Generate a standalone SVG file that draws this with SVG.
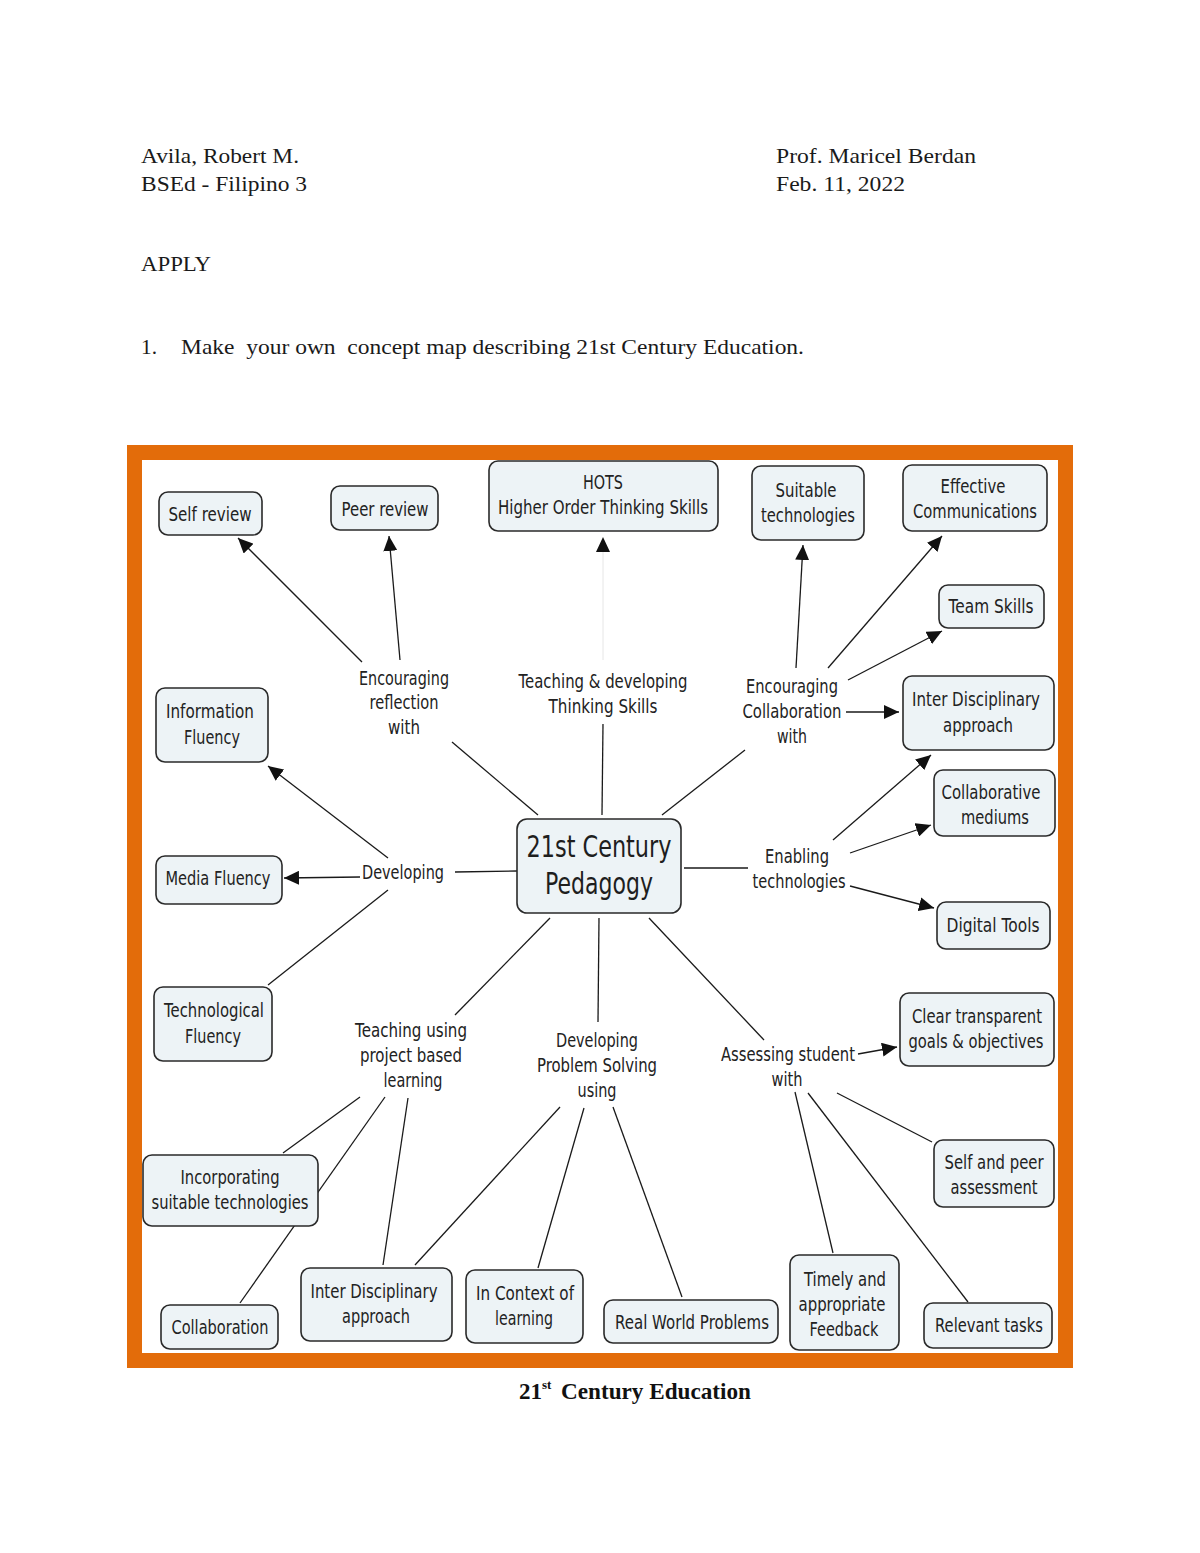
<svg xmlns="http://www.w3.org/2000/svg" width="1200" height="1553" viewBox="0 0 1200 1553">
<defs>
<marker id="arr" markerUnits="userSpaceOnUse" markerWidth="16" markerHeight="14" refX="15" refY="7" orient="auto">
<path d="M0,0 L15,7 L0,14 Z" fill="#111"/>
</marker>
<style>
.hdr{font-family:"Liberation Serif","Times New Roman",serif;font-size:22px;fill:#1a1a1a}
.box{fill:#edf3f6;stroke:#2a2a2a;stroke-width:1.6}
.nt{font-family:"DejaVu Sans",Verdana,sans-serif;font-size:19px;fill:#222;text-anchor:middle}
.ct{font-family:"DejaVu Sans",Verdana,sans-serif;font-size:30px;fill:#1e1e1e;text-anchor:middle}
.lk{font-family:"DejaVu Sans",Verdana,sans-serif;font-size:19px;fill:#222;text-anchor:middle}
.c{stroke:#1a1a1a;stroke-width:1.3;fill:none}
.ca{stroke:#1a1a1a;stroke-width:1.3;fill:none;marker-end:url(#arr)}
.cap{font-family:"Liberation Serif","Times New Roman",serif;font-weight:bold;font-size:23px;fill:#111}
.sup{font-family:"Liberation Serif","Times New Roman",serif;font-weight:bold;font-size:13px;fill:#111}
</style>
</defs>
<rect width="1200" height="1553" fill="#fff"/>

<g id="header">
<text class="hdr" x="141" y="163" textLength="158" lengthAdjust="spacingAndGlyphs">Avila, Robert M.</text>
<text class="hdr" x="141" y="191" textLength="166" lengthAdjust="spacingAndGlyphs">BSEd - Filipino 3</text>
<text class="hdr" x="776" y="163" textLength="200" lengthAdjust="spacingAndGlyphs">Prof. Maricel Berdan</text>
<text class="hdr" x="776" y="191" textLength="129" lengthAdjust="spacingAndGlyphs">Feb. 11, 2022</text>
<text class="hdr" x="141" y="271" textLength="70" lengthAdjust="spacingAndGlyphs">APPLY</text>
<text class="hdr" x="141" y="354" textLength="16" lengthAdjust="spacingAndGlyphs">1.</text>
<text class="hdr" x="181" y="354" textLength="623" lengthAdjust="spacingAndGlyphs" xml:space="preserve">Make  your own  concept map describing 21st Century Education.</text>
</g>

<rect x="134.5" y="452.5" width="931" height="908" fill="#fff" stroke="#e36c0a" stroke-width="15"/>

<g id="connectors">
<line class="c" x1="538" y1="815" x2="452" y2="742"/>
<line class="ca" x1="362" y1="662" x2="238" y2="538"/>
<line class="ca" x1="400" y1="660" x2="389" y2="536"/>
<line class="c" x1="602" y1="815" x2="603" y2="724"/>
<line x1="603" y1="660" x2="603" y2="552" stroke="#e6e6e6" stroke-width="1"/>
<line class="ca" x1="603" y1="664" x2="603" y2="537" stroke-opacity="0"/>
<line class="c" x1="662" y1="815" x2="745" y2="750"/>
<line class="ca" x1="796" y1="668" x2="803" y2="545"/>
<line class="ca" x1="828" y1="668" x2="942" y2="536"/>
<line class="ca" x1="848" y1="680" x2="942" y2="631"/>
<line class="ca" x1="846" y1="712" x2="899" y2="712"/>
<line class="c" x1="684" y1="868" x2="748" y2="868"/>
<line class="ca" x1="833" y1="840" x2="931" y2="755"/>
<line class="ca" x1="850" y1="853" x2="931" y2="825"/>
<line class="ca" x1="850" y1="886" x2="934" y2="908"/>
<line class="c" x1="517" y1="871" x2="455" y2="872"/>
<line class="ca" x1="388" y1="858" x2="268" y2="766"/>
<line class="ca" x1="360" y1="877" x2="284" y2="878"/>
<line class="c" x1="388" y1="890" x2="268" y2="985"/>
<line class="c" x1="550" y1="918" x2="455" y2="1015"/>
<line class="c" x1="360" y1="1097" x2="283" y2="1153"/>
<line class="c" x1="385" y1="1097" x2="240" y2="1303"/>
<line class="c" x1="408" y1="1098" x2="383" y2="1265"/>
<line class="c" x1="599" y1="918" x2="598" y2="1022"/>
<line class="c" x1="560" y1="1107" x2="415" y2="1265"/>
<line class="c" x1="584" y1="1108" x2="538" y2="1268"/>
<line class="c" x1="613" y1="1107" x2="682" y2="1297"/>
<line class="c" x1="649" y1="918" x2="764" y2="1040"/>
<line class="ca" x1="858" y1="1054" x2="897" y2="1047"/>
<line class="c" x1="837" y1="1093" x2="932" y2="1142"/>
<line class="c" x1="795" y1="1092" x2="833" y2="1253"/>
<line class="c" x1="808" y1="1093" x2="968" y2="1302"/>
</g>

<g id="linking-phrases">
<g id="lp-reflection"><text class="lk" x="404" y="685" textLength="90" lengthAdjust="spacingAndGlyphs">Encouraging</text><text class="lk" x="404" y="709" textLength="69" lengthAdjust="spacingAndGlyphs">reflection</text><text class="lk" x="404" y="734" textLength="32" lengthAdjust="spacingAndGlyphs">with</text></g>
<g id="lp-thinking"><text class="lk" x="603" y="688" textLength="169" lengthAdjust="spacingAndGlyphs">Teaching &amp; developing</text><text class="lk" x="603" y="713" textLength="109" lengthAdjust="spacingAndGlyphs">Thinking Skills</text></g>
<g id="lp-collab"><text class="lk" x="792" y="693" textLength="92" lengthAdjust="spacingAndGlyphs">Encouraging</text><text class="lk" x="792" y="718" textLength="99" lengthAdjust="spacingAndGlyphs">Collaboration</text><text class="lk" x="792" y="743" textLength="30" lengthAdjust="spacingAndGlyphs">with</text></g>
<g id="lp-developing"><text class="lk" x="403" y="879" textLength="82" lengthAdjust="spacingAndGlyphs">Developing</text></g>
<g id="lp-enabling"><text class="lk" x="797" y="863" textLength="64" lengthAdjust="spacingAndGlyphs">Enabling</text><text class="lk" x="799" y="888" textLength="93" lengthAdjust="spacingAndGlyphs">technologies</text></g>
<g id="lp-pbl"><text class="lk" x="411" y="1037" textLength="112" lengthAdjust="spacingAndGlyphs">Teaching using</text><text class="lk" x="411" y="1062" textLength="102" lengthAdjust="spacingAndGlyphs">project based</text><text class="lk" x="413" y="1087" textLength="59" lengthAdjust="spacingAndGlyphs">learning</text></g>
<g id="lp-problem"><text class="lk" x="597" y="1047" textLength="82" lengthAdjust="spacingAndGlyphs">Developing</text><text class="lk" x="597" y="1072" textLength="120" lengthAdjust="spacingAndGlyphs">Problem Solving</text><text class="lk" x="597" y="1097" textLength="39" lengthAdjust="spacingAndGlyphs">using</text></g>
<g id="lp-assessing"><text class="lk" x="788" y="1061" textLength="134" lengthAdjust="spacingAndGlyphs">Assessing student</text><text class="lk" x="787" y="1086" textLength="31" lengthAdjust="spacingAndGlyphs">with</text></g>
</g>

<g id="n-center"><rect class="box" x="517" y="819" width="164" height="94" rx="10"/><text class="ct" x="599" y="857" textLength="145" lengthAdjust="spacingAndGlyphs">21st Century</text><text class="ct" x="599" y="894" textLength="108" lengthAdjust="spacingAndGlyphs">Pedagogy</text></g>
<g id="n-self-review"><rect class="box" x="159" y="492" width="103" height="43" rx="9"/><text class="nt" x="210" y="521" textLength="83" lengthAdjust="spacingAndGlyphs">Self review</text></g>
<g id="n-peer-review"><rect class="box" x="331" y="486" width="107" height="44" rx="9"/><text class="nt" x="385" y="516" textLength="87" lengthAdjust="spacingAndGlyphs">Peer review</text></g>
<g id="n-hots"><rect class="box" x="489" y="461" width="229" height="70" rx="9"/><text class="nt" x="603" y="489" textLength="40" lengthAdjust="spacingAndGlyphs">HOTS</text><text class="nt" x="603" y="514" textLength="210" lengthAdjust="spacingAndGlyphs">Higher Order Thinking Skills</text></g>
<g id="n-suitable-tech"><rect class="box" x="752" y="466" width="112" height="74" rx="9"/><text class="nt" x="806" y="497" textLength="61" lengthAdjust="spacingAndGlyphs">Suitable</text><text class="nt" x="808" y="522" textLength="94" lengthAdjust="spacingAndGlyphs">technologies</text></g>
<g id="n-effective-comm"><rect class="box" x="903" y="465" width="144" height="66" rx="9"/><text class="nt" x="973" y="493" textLength="65" lengthAdjust="spacingAndGlyphs">Effective</text><text class="nt" x="975" y="518" textLength="124" lengthAdjust="spacingAndGlyphs">Communications</text></g>
<g id="n-team-skills"><rect class="box" x="939" y="585" width="105" height="43" rx="9"/><text class="nt" x="991" y="613" textLength="85" lengthAdjust="spacingAndGlyphs">Team Skills</text></g>
<g id="n-interdisc-right"><rect class="box" x="903" y="676" width="151" height="74" rx="9"/><text class="nt" x="976" y="706" textLength="128" lengthAdjust="spacingAndGlyphs">Inter Disciplinary</text><text class="nt" x="978" y="732" textLength="70" lengthAdjust="spacingAndGlyphs">approach</text></g>
<g id="n-collab-mediums"><rect class="box" x="934" y="770" width="121" height="66" rx="9"/><text class="nt" x="991" y="799" textLength="99" lengthAdjust="spacingAndGlyphs">Collaborative</text><text class="nt" x="995" y="824" textLength="68" lengthAdjust="spacingAndGlyphs">mediums</text></g>
<g id="n-digital-tools"><rect class="box" x="937" y="902" width="113" height="47" rx="9"/><text class="nt" x="993" y="932" textLength="93" lengthAdjust="spacingAndGlyphs">Digital Tools</text></g>
<g id="n-clear-goals"><rect class="box" x="900" y="993" width="154" height="73" rx="9"/><text class="nt" x="977" y="1023" textLength="130" lengthAdjust="spacingAndGlyphs">Clear transparent</text><text class="nt" x="976" y="1048" textLength="135" lengthAdjust="spacingAndGlyphs">goals &amp; objectives</text></g>
<g id="n-self-peer"><rect class="box" x="934" y="1140" width="120" height="67" rx="9"/><text class="nt" x="994" y="1169" textLength="99" lengthAdjust="spacingAndGlyphs">Self and peer</text><text class="nt" x="994" y="1194" textLength="87" lengthAdjust="spacingAndGlyphs">assessment</text></g>
<g id="n-relevant"><rect class="box" x="924" y="1303" width="128" height="45" rx="9"/><text class="nt" x="989" y="1332" textLength="108" lengthAdjust="spacingAndGlyphs">Relevant tasks</text></g>
<g id="n-timely"><rect class="box" x="790" y="1255" width="109" height="95" rx="9"/><text class="nt" x="845" y="1286" textLength="82" lengthAdjust="spacingAndGlyphs">Timely and</text><text class="nt" x="842" y="1311" textLength="87" lengthAdjust="spacingAndGlyphs">appropriate</text><text class="nt" x="844" y="1336" textLength="69" lengthAdjust="spacingAndGlyphs">Feedback</text></g>
<g id="n-real-world"><rect class="box" x="604" y="1300" width="174" height="43" rx="9"/><text class="nt" x="692" y="1329" textLength="154" lengthAdjust="spacingAndGlyphs">Real World Problems</text></g>
<g id="n-in-context"><rect class="box" x="466" y="1270" width="117" height="73" rx="9"/><text class="nt" x="525" y="1300" textLength="98" lengthAdjust="spacingAndGlyphs">In Context of</text><text class="nt" x="524" y="1325" textLength="58" lengthAdjust="spacingAndGlyphs">learning</text></g>
<g id="n-interdisc-bottom"><rect class="box" x="301" y="1268" width="151" height="73" rx="9"/><text class="nt" x="374" y="1298" textLength="127" lengthAdjust="spacingAndGlyphs">Inter Disciplinary</text><text class="nt" x="376" y="1323" textLength="68" lengthAdjust="spacingAndGlyphs">approach</text></g>
<g id="n-collaboration"><rect class="box" x="161" y="1305" width="117" height="44" rx="9"/><text class="nt" x="220" y="1334" textLength="97" lengthAdjust="spacingAndGlyphs">Collaboration</text></g>
<g id="n-incorporating"><rect class="box" x="143" y="1155" width="175" height="71" rx="9"/><text class="nt" x="230" y="1184" textLength="99" lengthAdjust="spacingAndGlyphs">Incorporating</text><text class="nt" x="230" y="1209" textLength="157" lengthAdjust="spacingAndGlyphs">suitable technologies</text></g>
<g id="n-tech-fluency"><rect class="box" x="154" y="987" width="118" height="74" rx="9"/><text class="nt" x="214" y="1017" textLength="100" lengthAdjust="spacingAndGlyphs">Technological</text><text class="nt" x="213" y="1043" textLength="56" lengthAdjust="spacingAndGlyphs">Fluency</text></g>
<g id="n-media-fluency"><rect class="box" x="156" y="856" width="126" height="48" rx="9"/><text class="nt" x="218" y="885" textLength="105" lengthAdjust="spacingAndGlyphs">Media Fluency</text></g>
<g id="n-info-fluency"><rect class="box" x="156" y="688" width="112" height="74" rx="9"/><text class="nt" x="210" y="718" textLength="88" lengthAdjust="spacingAndGlyphs">Information</text><text class="nt" x="212" y="744" textLength="56" lengthAdjust="spacingAndGlyphs">Fluency</text></g>

<g id="caption">
<text class="cap" x="519" y="1399">21</text>
<text class="sup" x="542" y="1389">st</text>
<text class="cap" x="561" y="1399" textLength="190" lengthAdjust="spacingAndGlyphs">Century Education</text>
</g>
</svg>
